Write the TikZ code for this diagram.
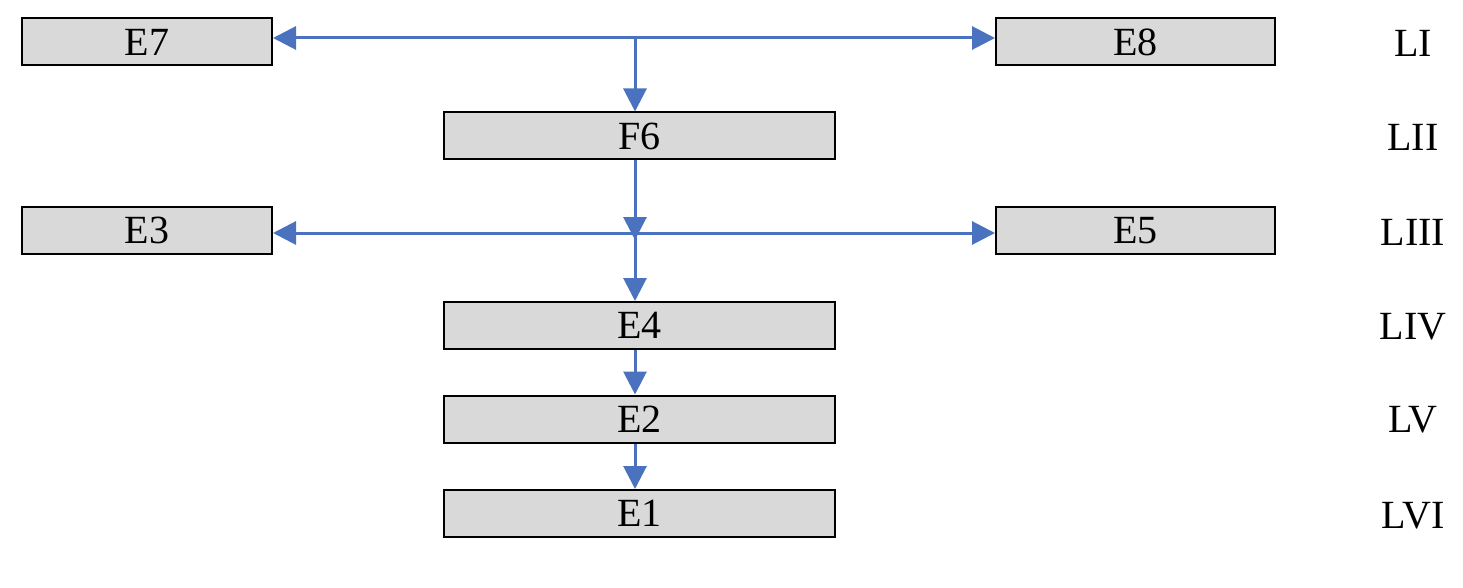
\documentclass[tikz,border=0pt]{standalone}
\usepackage{fontspec}
\setmainfont{Liberation Serif}
\usetikzlibrary{arrows.meta}
\definecolor{arrblue}{HTML}{4A72BE}
\definecolor{boxgray}{HTML}{D9D9D9}
\begin{document}
\begin{tikzpicture}[x=1pt,y=-1pt,
  box/.style={draw=black,line width=2pt,fill=boxgray,minimum height=47pt,inner sep=0pt,
    font=\fontsize{40}{48}\selectfont},
  wide/.style={box,minimum width=250pt},
  mid/.style={box,minimum width=391pt},
  wider/.style={box,minimum width=279pt},
  lvl/.style={font=\fontsize{40}{48}\selectfont,inner sep=0pt},
  arr/.style={draw=arrblue,line width=3pt,-{Triangle[length=23pt,width=23pt]}}]
\useasboundingbox (0,0) rectangle (1463,588);
\node[wide]  (E7) at (147,42)    {E7};
\node[wider] (E8) at (1135.5,42) {E8};
\node[mid]   (F6) at (639.5,136) {F6};
\node[wide]  (E3) at (147,230.5) {E3};
\node[wider] (E5) at (1135.5,230.5) {E5};
\node[mid]   (E4) at (639.5,325.5) {E4};
\node[mid]   (E2) at (639.5,419) {E2};
\node[mid]   (E1) at (639.5,513.5) {E1};
\node[lvl] (L1) at (1413,43)  {LI};
\node[lvl] (L2) at (1413,137) {LII};
\node[lvl] (L3) at (1413,232) {LIII};
\node[lvl] (L4) at (1413,327) {LIV};
\node[lvl] (L5) at (1413,420) {LV};
\node[lvl] (L6) at (1413,516) {LVI};
\coordinate (j1) at (635,38);
\coordinate (j2) at (635,233);
\coordinate (j2t) at (635,240);
\draw[arr] (j1) -- (E7.east |- j1);
\draw[arr] (j1) -- (E8.west |- j1);
\draw[arr] (j1) -- (j1 |- F6.north);
\draw[arr] (j1 |- F6.south) -- (j2t);
\draw[arr] (j2) -- (E3.east |- j2);
\draw[arr] (j2) -- (E5.west |- j2);
\draw[arr] (j2) -- (j2 |- E4.north);
\draw[arr] (j2 |- E4.south) -- (j2 |- E2.north);
\draw[arr] (j2 |- E2.south) -- (j2 |- E1.north);
\end{tikzpicture}
\end{document}
